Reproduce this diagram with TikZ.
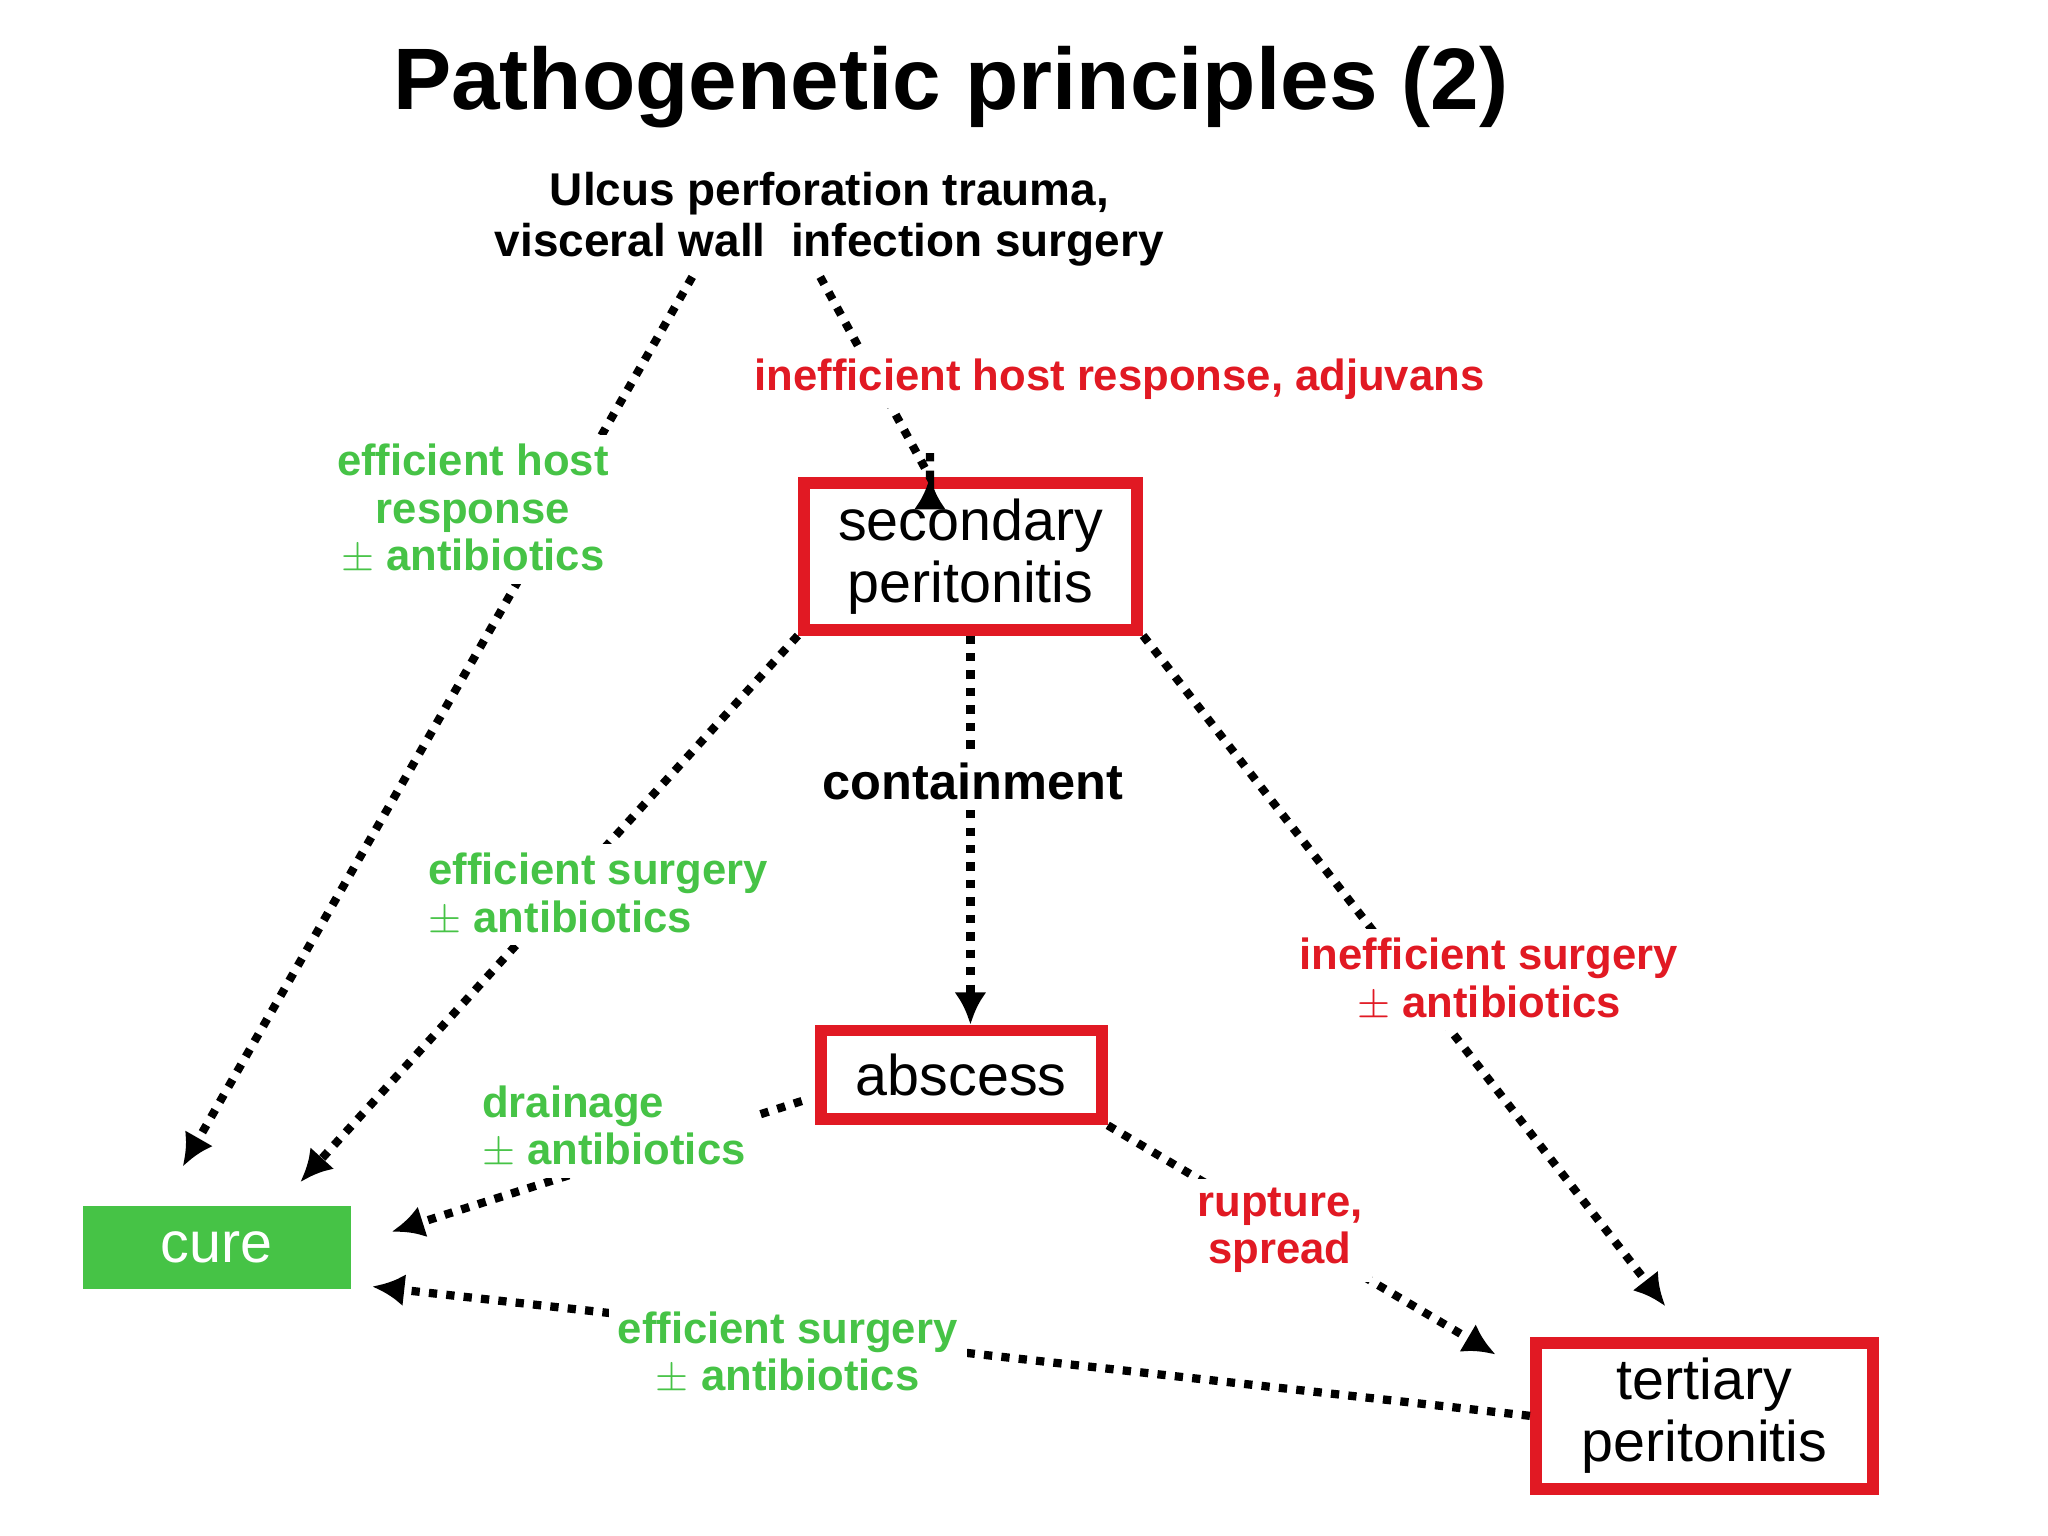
\documentclass[tikz,border=0pt]{standalone}
\usepackage{fontspec}
\setmainfont{Liberation Sans}
\usetikzlibrary{arrows.meta}

\definecolor{okgreen}{RGB}{70,195,70}
\definecolor{badred}{RGB}{225,25,35}

\tikzset{
  box/.style={draw=badred, line width=2.6pt, fill=white, align=center, font=\fontsize{12.5}{13.5}\selectfont, minimum height=1.12cm},
  flow/.style={dotted, line width=1.8pt, -{Latex[length=7pt,width=7pt]}},
  lbl/.style={fill=white, align=center, font=\bfseries\fontsize{9.5}{10.3}\selectfont, inner sep=2pt},
  good/.style={lbl, text=okgreen},
  bad/.style={lbl, text=badred}
}

\begin{document}
\begin{tikzpicture}[x=0.01cm, y=-0.01cm]

\useasboundingbox (0,0) rectangle (1568,1176);

% ======================
% Title and source
% ======================
\node[font=\bfseries\fontsize{19}{22}\selectfont] (title) at (728,67) {Pathogenetic principles (2)};
\node[lbl, font=\bfseries\fontsize{10}{11.2}\selectfont] (source) at (635,168)
{Ulcus perforation trauma,\\visceral wall\ \ infection surgery};

% ======================
% Stages
% ======================
\node[box, minimum width=2.55cm] (secondary) at (743,426) {secondary\\peritonitis};
\node[box, minimum width=2.15cm, minimum height=0.68cm] (abscess) at (736,823) {abscess};
\node[box, minimum width=2.58cm] (tertiary) at (1305,1084) {tertiary\\peritonitis};
\node[fill=okgreen, text=white, minimum width=2.05cm, minimum height=0.64cm,
  font=\fontsize{12.5}{13.5}\selectfont] (cure) at (166,955) {cure};

% ======================
% Connector ends
% ======================
\coordinate (s1) at (530,212);
\coordinate (s2) at (628,212);
\coordinate (c1) at (140,893);
\coordinate (c2) at (230,905);
\coordinate (c3) at (300,943);
\coordinate (c4) at (285,985);
\coordinate (t1) at (1275,1000);
\coordinate (t2) at (1145,1037);

% ======================
% Connectors
% ======================
\draw[flow] (s1) -- (c1);
\draw[flow] (s2) -- (secondary.north west -| 712,0) -- ++(0,0);
\draw[flow] (secondary.south west) -- (c2);
\draw[flow] (secondary.south) -- (abscess.north -| secondary.south);
\draw[flow] (secondary.south east) -- (t1);
\draw[flow] (abscess.west) ++(-10,20) -- (c3);
\draw[flow] (abscess.south east) -- (t2);
\draw[flow] (tertiary.west) -- (c4);

% ======================
% Labels
% ======================
\node[good] (hostok) at (362,390) {efficient host\\response\\$\pm$ antibiotics};
\node[bad, anchor=west] (hostbad) at (570,290) {inefficient host response, adjuvans};
\node[good, align=left] (surgok) at (458,685) {efficient surgery\\$\pm$ antibiotics};
\node[lbl, font=\bfseries\fontsize{11}{12}\selectfont] (contain) at (745,598) {containment};
\node[bad] (surgbad) at (1140,750) {inefficient surgery\\$\pm$ antibiotics};
\node[good, align=left] (drain) at (470,863) {drainage\\$\pm$ antibiotics};
\node[bad] (rupture) at (980,942) {rupture,\\spread};
\node[good] (surgok2) at (603,1036) {efficient surgery\\$\pm$ antibiotics};

\end{tikzpicture}
\end{document}
